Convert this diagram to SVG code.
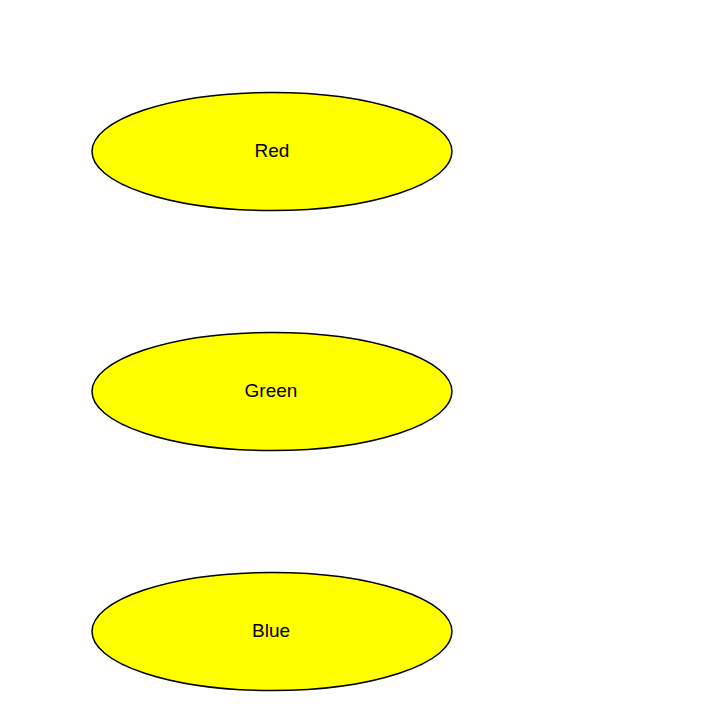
<svg xmlns="http://www.w3.org/2000/svg" width="722" height="722" viewBox="0 0 722 722">
<style>
.node ellipse{fill:#ffff00;stroke:#000;stroke-width:1.5}
.node text{font-family:"Liberation Sans",Arial,sans-serif;font-size:19px;fill:#000;text-anchor:middle}
</style>
<rect width="722" height="722" fill="#fff"/>
<g id="connectors"></g>
<g id="node-red" class="node">
<ellipse cx="272" cy="151.5" rx="180" ry="59"/>
<text x="272" y="157">Red</text>
</g>
<g id="node-green" class="node">
<ellipse cx="272" cy="391.5" rx="180" ry="59"/>
<text x="271" y="396.5">Green</text>
</g>
<g id="node-blue" class="node">
<ellipse cx="272" cy="631.5" rx="180" ry="59"/>
<text x="271" y="637">Blue</text>
</g>
</svg>
